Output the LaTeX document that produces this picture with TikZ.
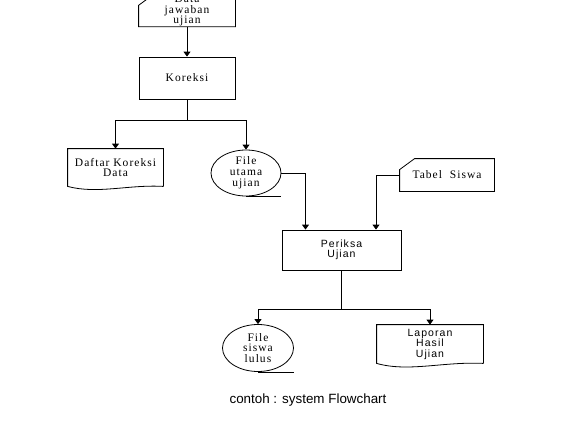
\documentclass[tikz,border=0pt]{standalone}
\usepackage{fontspec}
\setmainfont{Liberation Serif}
\newfontfamily\spacedserif[LetterSpace=9]{Liberation Serif}
\newfontfamily\spacedsans[LetterSpace=10]{Liberation Sans}
\newfontfamily\plainsans{Liberation Sans}
\usetikzlibrary{shapes.geometric,arrows.meta}

\begin{document}
\begin{tikzpicture}[x=1pt, y=-1pt, line width=0.8pt,
    flow/.style={-{Triangle[length=5pt,width=7pt]}},
    serif label/.style={align=center, font={\spacedserif\fontsize{11.5}{10.8}\selectfont}},
    sans label/.style={align=center, font={\spacedsans\fontsize{10.5}{10.5}\selectfont}},
    procbox/.style={draw, rectangle, inner sep=0pt},
    shapebox/.style={rectangle, inner sep=0pt},
    tapedisk/.style={draw, ellipse, inner sep=0pt}]
        \useasboundingbox (0,0) rectangle (582,424);

        % input card
        \node [shapebox, serif label, minimum width=96, minimum height=31] (data) at (187,10.5) {Data\\jawaban\\ujian};
        \draw (data.south west) -- (data.south east) -- (data.north east)
              -- ([xshift=15]data.north west) -- ([yshift=-11]data.north west) -- cycle;

        % process
        \node [procbox, serif label, minimum width=96, minimum height=42] (koreksi) at (187,78) {Koreksi};

        % outputs of koreksi
        \node [shapebox, serif label, minimum width=95, minimum height=37] (daftar) at (115.5,167.5) {Daftar Koreksi\\Data};
        \draw (daftar.south east) -- (daftar.north east) -- (daftar.north west) -- (daftar.south west)
              .. controls ([xshift=30,yshift=-8]daftar.south west) and ([xshift=-35,yshift=2]daftar.south east) .. (daftar.south east);

        \node [tapedisk, serif label, minimum width=70, minimum height=46] (utama) at (246,173) {File\\utama\\ujian};
        \draw (utama.south) -- (utama.south -| utama.east);

        % second input card
        \node [shapebox, serif label, minimum width=94, minimum height=32] (tabel) at (447,175) {Tabel\ \ Siswa};
        \draw (tabel.south west) -- (tabel.south east) -- (tabel.north east)
              -- ([xshift=15]tabel.north west) -- ([yshift=-11]tabel.north west) -- cycle;

        \node [procbox, sans label, minimum width=119, minimum height=40] (periksa) at (341.5,250) {Periksa\\Ujian};

        % results
        \node [tapedisk, serif label, minimum width=71, minimum height=47] (lulus) at (258,348) {File\\siswa\\lulus};
        \draw (lulus.south) -- (lulus.south -| lulus.east);

        \node [shapebox, sans label, minimum width=106, minimum height=38] (laporan) at (430,344) {Laporan\\Hasil\\Ujian};
        \draw (laporan.south east) -- (laporan.north east) -- (laporan.north west) -- (laporan.south west)
              .. controls ([xshift=32,yshift=-9]laporan.south west) and ([xshift=-40,yshift=2]laporan.south east) .. (laporan.south east);

        % connectors
        \coordinate (split1) at (187,120);
        \coordinate (split2) at (341.5,309);
        \draw [flow] (data) -- (koreksi);
        \draw (koreksi) -- (split1);
        \draw [flow] (split1) -| (daftar);
        \draw [flow] (split1) -| (utama);
        \draw [flow] (utama.east) -| ([xshift=-36]periksa.north);
        \draw [flow] (tabel.west) -| ([xshift=34.5]periksa.north);
        \draw (periksa) -- (split2);
        \draw [flow] (split2) -| (lulus);
        \draw [flow] (split2) -| (laporan);

        \node [font={\plainsans\fontsize{13.4}{16}\selectfont}] (caption) at (308,400) {contoh : system Flowchart};
      \end{tikzpicture}
\end{document}
